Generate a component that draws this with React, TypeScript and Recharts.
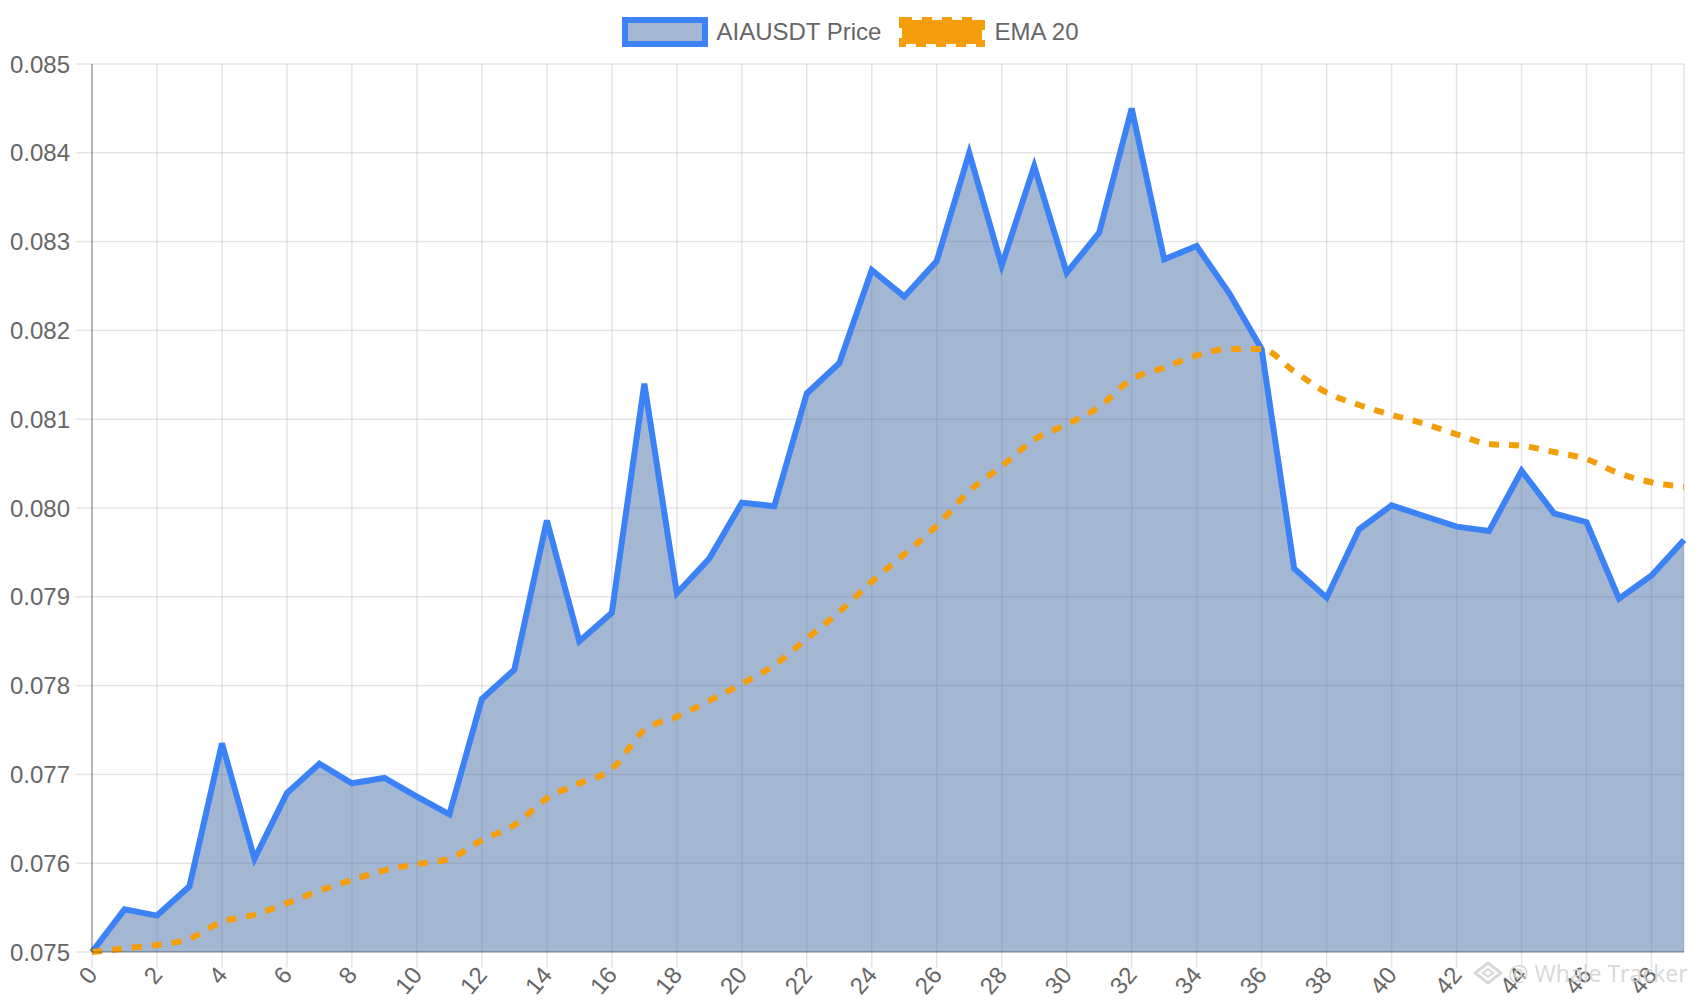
import React from "react";
import {
  ComposedChart,
  Area,
  Line,
  XAxis,
  YAxis,
  CartesianGrid,
  Legend,
} from "recharts";

// AIAUSDT close price, one value per candle (index 0..49)
const prices = [
  0.075, 0.07548, 0.07541, 0.07574, 0.07735, 0.07605, 0.07679, 0.07712, 0.0769, 0.07696,
  0.07675, 0.07655, 0.07785, 0.07818, 0.07986, 0.0785, 0.07882, 0.0814, 0.07904, 0.07943,
  0.08006, 0.08002, 0.08129, 0.08163, 0.08268, 0.08238, 0.08278, 0.084, 0.08273, 0.08385,
  0.08265, 0.0831, 0.0845, 0.0828, 0.08295, 0.08242, 0.08179, 0.07932, 0.07899, 0.07976,
  0.08003, 0.07991, 0.07979, 0.07974, 0.08042, 0.07994, 0.07984, 0.07898, 0.07924, 0.07964,
];

// EMA 20
const ema20 = [
  0.075, 0.07504, 0.07508, 0.07515, 0.07534, 0.07542, 0.07555, 0.07569, 0.07581, 0.07592,
  0.07599, 0.07605, 0.07626, 0.07643, 0.07673, 0.0769, 0.07706, 0.0775, 0.07765, 0.07783,
  0.07802, 0.07823, 0.07853, 0.07883, 0.07917, 0.07948, 0.0798, 0.08019, 0.08047, 0.08077,
  0.08094, 0.08114, 0.08145, 0.08158, 0.08172, 0.08179, 0.08179, 0.08154, 0.0813, 0.08116,
  0.08105, 0.08095, 0.08083, 0.08072, 0.0807, 0.08063, 0.08055, 0.08039, 0.08029, 0.08024,
];

const xTicks = [0, 2, 4, 6, 8, 10, 12, 14, 16, 18, 20, 22, 24, 26, 28, 30, 32, 34, 36, 38, 40, 42, 44, 46, 48];
const yTicks = [0.075, 0.076, 0.077, 0.078, 0.079, 0.08, 0.081, 0.082, 0.083, 0.084, 0.085];

const data = prices.map((p, i) => ({ idx: i, price: p, ema: ema20[i] }));

const FONT = "'Liberation Sans', Arial, Helvetica, sans-serif";
const GRID = "rgba(0,0,0,0.1)";
const BLUE = "#3b82f6";
const AMBER = "#f59e0b";

const XTick = (props: any) => {
  const { x, y, payload } = props;
  return (
    <text
      x={x}
      y={y}
      transform={`rotate(-50, ${x}, ${y})`}
      textAnchor="end"
      dominantBaseline="central"
      fill="#666"
      fontSize={24}
      fontFamily={FONT}
    >
      {payload.value}
    </text>
  );
};

const LegendBox = ({ kind }: { kind: string }) => (
  <svg width={86} height={30} style={{ display: "block" }}>
    {kind === "price" ? (
      <rect x={3} y={3} width={80} height={24} fill="#4a6fa5" fillOpacity={0.5} stroke={BLUE} strokeWidth={6} />
    ) : (
      <rect x={3} y={3} width={80} height={24} fill={AMBER} stroke={AMBER} strokeWidth={6} strokeDasharray="10 10" />
    )}
  </svg>
);

const ChartLegend = () => (
  <div
    style={{
      height: 64,
      width: 1700,
      display: "flex",
      justifyContent: "center",
      alignItems: "flex-start",
      paddingTop: 17,
      boxSizing: "border-box",
      fontFamily: FONT,
      fontSize: 24,
      color: "#666",
    }}
  >
    <div style={{ display: "flex", alignItems: "center", height: 30 }}>
      <LegendBox kind="price" />
      <span style={{ marginLeft: 9, lineHeight: "30px" }}>AIAUSDT Price</span>
    </div>
    <div style={{ display: "flex", alignItems: "center", height: 30, marginLeft: 18 }}>
      <LegendBox kind="ema" />
      <span style={{ marginLeft: 9, lineHeight: "30px" }}>EMA 20</span>
    </div>
  </div>
);

export default function App() {
  return (
    <div style={{ position: "absolute", left: 0, top: 0, width: 1700, height: 1000, background: "#fff", overflow: "hidden" }}>
      <ComposedChart width={1700} height={1000} data={data} margin={{ top: 0, right: 16, bottom: 0, left: 0 }}>
        <Legend
          verticalAlign="top"
          align="center"
          content={() => <ChartLegend />}
          wrapperStyle={{ top: 0, left: 0, width: 1700 }}
        />
        <CartesianGrid stroke={GRID} strokeWidth={1.5} />
        <XAxis
          dataKey="idx"
          type="number"
          domain={[0, 49]}
          ticks={xTicks}
          interval={0}
          height={48}
          tickSize={16}
          tickMargin={2}
          tickLine={{ stroke: GRID, strokeWidth: 1.5 }}
          axisLine={{ stroke: "rgba(0,0,0,0.25)", strokeWidth: 1.5 }}
          tick={<XTick />}
        />
        <YAxis
          type="number"
          domain={[0.075, 0.085]}
          ticks={yTicks}
          interval={0}
          width={92}
          tickSize={16}
          tickMargin={6}
          tickLine={{ stroke: GRID, strokeWidth: 1.5 }}
          axisLine={{ stroke: "rgba(0,0,0,0.3)", strokeWidth: 1.5 }}
          tickFormatter={(v: number) => v.toFixed(3)}
          tick={{ fill: "#666", fontSize: 24, fontFamily: FONT }}
        />
        <Area
          type="linear"
          dataKey="price"
          name="AIAUSDT Price"
          stroke={BLUE}
          strokeWidth={6}
          fill="#4a6fa5"
          fillOpacity={0.5}
          dot={false}
          activeDot={false}
          isAnimationActive={false}
        />
        <Line
          type="monotone"
          dataKey="ema"
          name="EMA 20"
          stroke={AMBER}
          strokeWidth={6}
          strokeDasharray="10 10"
          dot={false}
          activeDot={false}
          isAnimationActive={false}
        />
      </ComposedChart>
      {/* watermark */}
      <div
        style={{
          position: "absolute",
          left: 1472,
          top: 958,
          height: 30,
          display: "flex",
          alignItems: "center",
          whiteSpace: "nowrap",
          fontFamily: "'Open Sans', 'Noto Sans', sans-serif",
          fontSize: 23,
          color: "#d4d4d4",
          opacity: 0.9,
          pointerEvents: "none",
        }}
      >
        <svg width={32} height={26} style={{ marginRight: 4, flex: "none" }}>
          <path d="M16 3 L29 13 L16 23 L3 13 Z" fill="none" stroke="#d4d4d4" strokeWidth={3} />
          <path d="M16 9 L21 13 L16 17 L11 13 Z" fill="none" stroke="#d4d4d4" strokeWidth={2} />
        </svg>
        <span>@ Whale Tracker</span>
      </div>
    </div>
  );
}
